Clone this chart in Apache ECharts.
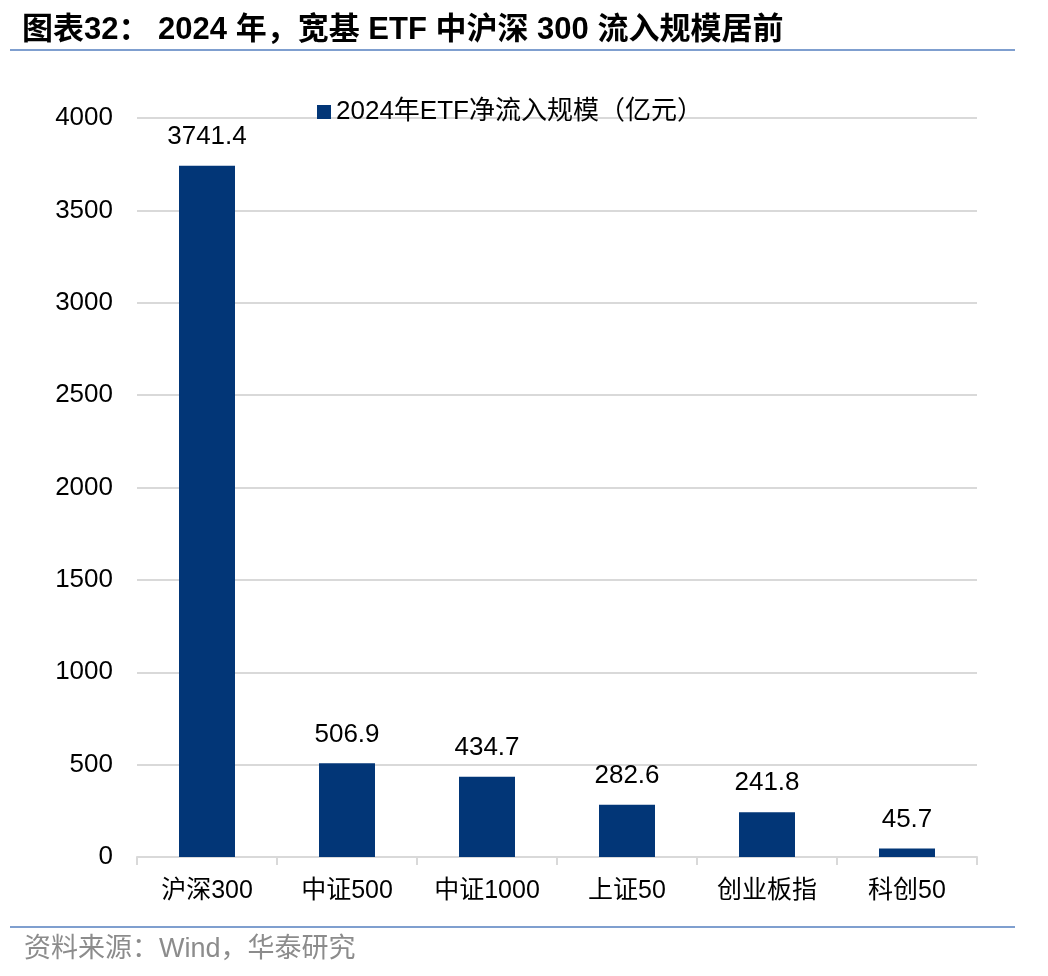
<!DOCTYPE html>
<html>
<head>
<meta charset="utf-8">
<script src="https://cdn.jsdelivr.net/npm/echarts@6/dist/echarts.min.js"></script>
<style>
  html, body { margin: 0; padding: 0; background: #fff; }
  #chart { width: 1048px; height: 976px; }
</style>
</head>
<body>
<div id="chart"></div>
<script>
// 类目与数值
const categories = ['沪深300', '中证500', '中证1000', '上证50', '创业板指', '科创50'];
const inflowValues = [3741.4, 506.9, 434.7, 282.6, 241.8, 45.7];
const seriesName = '2024年ETF净流入规模（亿元）';

const barColor = '#023677';
const fontCn = 'Arial, "Liberation Sans", "Noto Sans CJK SC", sans-serif';

const myChart = echarts.init(document.getElementById('chart'));

const option = {
    backgroundColor: '#fff',
    animation: false,
    textStyle: { fontFamily: fontCn },
    graphic: [
        {
            type: 'text',
            left: 22, top: 15,
            style: { text: '图表32： 2024 年，宽基 ETF 中沪深 300 流入规模居前', fontSize: 31, fontWeight: 'bold', fill: '#000', fontFamily: fontCn }
        },
        {
            type: 'rect',
            shape: { x: 10, y: 49, width: 1005, height: 2 },
            style: { fill: '#7f9fcf' }
        },
        {
            type: 'rect',
            shape: { x: 10, y: 926, width: 1005, height: 2 },
            style: { fill: '#7f9fcf' }
        },
        {
            type: 'text',
            left: 24, top: 936,
            style: { text: '资料来源：Wind，华泰研究', fontSize: 27, fill: '#8c8c8c', fontFamily: fontCn }
        }
    ],
    legend: {
        top: 94,
        left: 312,
        icon: 'rect',
        itemWidth: 14,
        itemHeight: 14,
        itemGap: 6,
        textStyle: { fontSize: 26, color: '#000' },
        data: [seriesName]
    },
    grid: { left: 137, right: 71, top: 118, bottom: 119 },
    xAxis: {
        type: 'category',
        data: categories,
        axisLine: { lineStyle: { color: '#d9d9d9', width: 2 } },
        axisTick: { show: true, length: 8, lineStyle: { color: '#d9d9d9', width: 2 } },
        axisLabel: { fontSize: 25, color: '#000', margin: 22, interval: 0 }
    },
    yAxis: {
        type: 'value',
        min: 0, max: 4000, interval: 500,
        axisLine: { show: false },
        axisTick: { show: false },
        axisLabel: { fontSize: 26, color: '#000', margin: 24, formatter: (v) => String(v) },
        splitLine: { lineStyle: { color: '#d9d9d9', width: 2 } }
    },
    series: [
        {
            name: seriesName,
            type: 'bar',
            data: inflowValues,
            barWidth: '40%',
            itemStyle: { color: barColor },
            label: {
                show: true,
                position: 'top',
                distance: 16,
                fontSize: 26,
                color: '#000',
                formatter: (p) => p.value.toFixed(1)
            }
        }
    ]
};

myChart.setOption(option);
</script>
</body>
</html>
